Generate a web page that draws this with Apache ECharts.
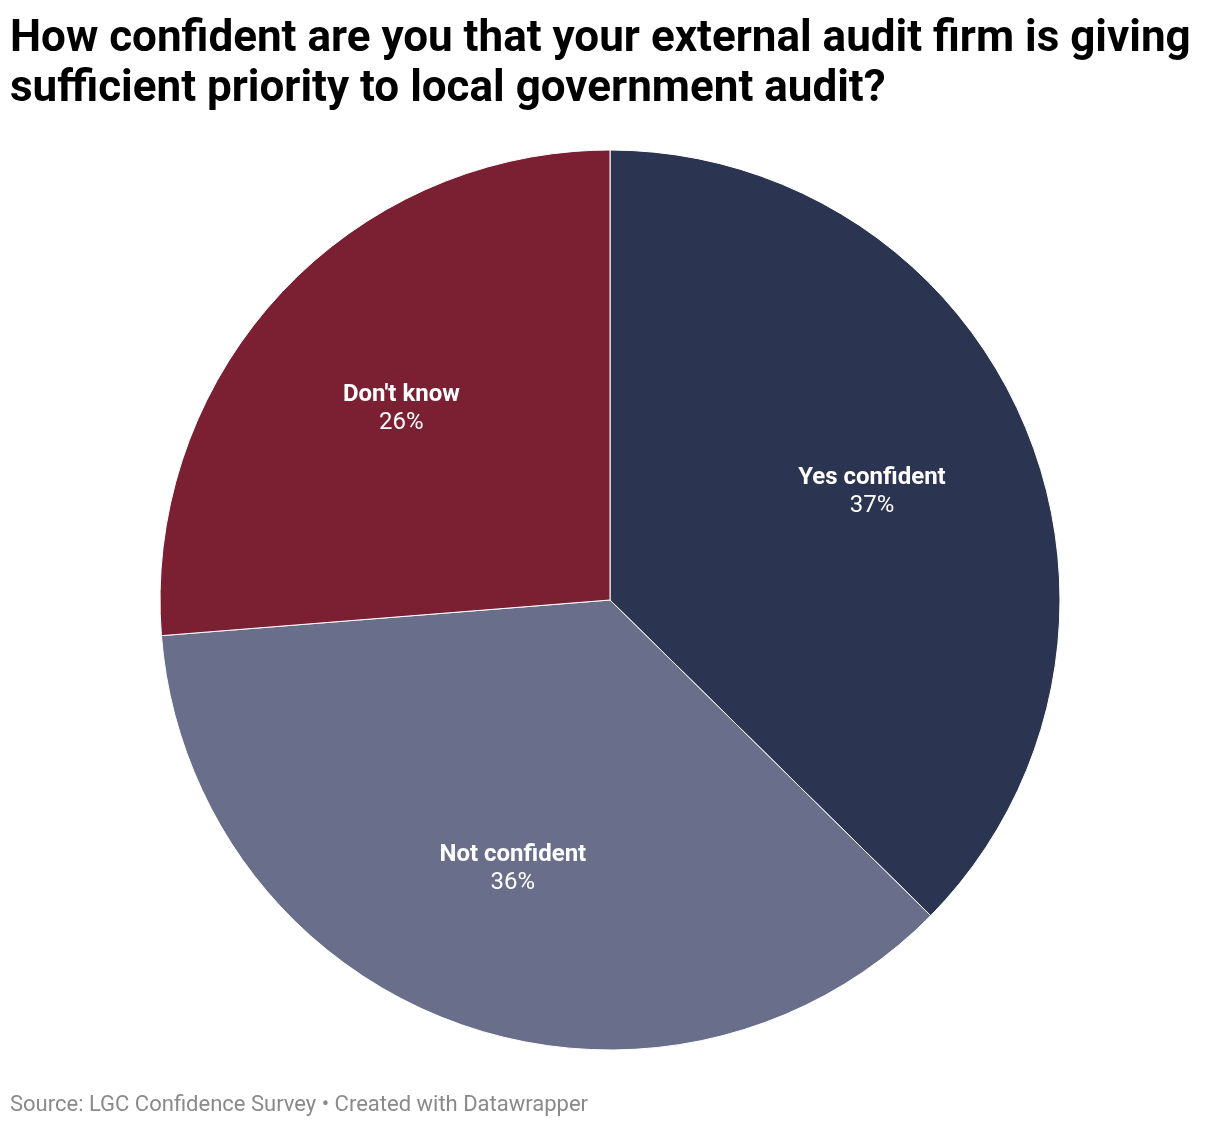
<!DOCTYPE html>
<html>
<head>
<meta charset="utf-8">
<script src="https://cdn.jsdelivr.net/npm/echarts@6/dist/echarts.min.js"></script>
<style>
    html, body { margin: 0; padding: 0; background: #fff; }
    #chart { width: 1220px; height: 1126px; }
</style>
</head>
<body>
<div id="chart"></div>
<script>
// data
var categories = ['Yes confident', 'Not confident', "Don't know"]
var values = [37, 36, 26]
var colors = ['#2b3450', '#696f8a', '#7b1f32']

var pieData = categories.map(function (name, i) {
    return { name: name, value: values[i], itemStyle: { color: colors[i] } }
})

var option = {
    backgroundColor: '#fff',
    animation: false,
    title: [{
        text: 'How confident are you that your external audit firm is giving\nsufficient priority to local government audit?',
        left: 5,
        top: 10,
        textStyle: {
            fontFamily: 'Roboto',
            fontSize: 44,
            fontWeight: 'bold',
            lineHeight: 50,
            color: '#000'
        }
    }, {
        text: 'Source: LGC Confidence Survey \u2022 Created with Datawrapper',
        left: 5,
        top: 1089,
        textStyle: {
            fontFamily: 'Roboto',
            fontSize: 22,
            fontWeight: 'normal',
            color: '#8a8a8a'
        }
    }],
    series: [{
        // slices
        type: 'pie',
        center: [610, 600],
        radius: [0, 450],
        startAngle: 90,
        clockwise: true,
        silent: true,
        label: { show: false },
        labelLine: { show: false },
        itemStyle: { borderColor: '#fff', borderWidth: 1 },
        data: pieData
    }, {
        // labels only, ring midpoint sits where the reference puts the text
        type: 'pie',
        center: [610, 600],
        radius: [112, 450],
        startAngle: 90,
        clockwise: true,
        silent: true,
        itemStyle: { color: 'rgba(0,0,0,0)' },
        labelLine: { show: false },
        label: {
            show: true,
            position: 'inside',
            offset: [0, 2],
            formatter: function (p) {
                return '{b|' + p.name + '}\n{v|' + p.value + '%}'
            },
            rich: {
                b: { fontFamily: 'Roboto', fontSize: 24, fontWeight: 'bold', color: '#fff', lineHeight: 28, align: 'center' },
                v: { fontFamily: 'Roboto', fontSize: 24, color: '#fff', lineHeight: 28, align: 'center' }
            }
        },
        data: categories.map(function (name, i) {
            return { name: name, value: values[i] }
        })
    }]
}

var myChart = echarts.init(document.getElementById('chart'))
myChart.setOption(option)
</script>
</body>
</html>
